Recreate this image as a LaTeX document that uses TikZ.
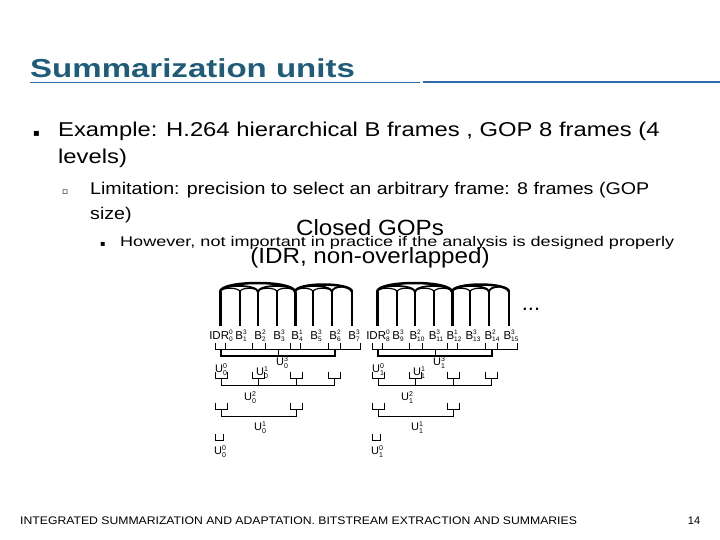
\documentclass[tikz,border=0pt]{standalone}
\usepackage{fontspec}
\setmainfont{Liberation Sans}
\newfontfamily\djvfont{DejaVu Sans}
\newcommand{\fr}[3]{#1\rlap{\raisebox{4.5pt}{\fontsize{6.5}{7}\selectfont #2}}\raisebox{-2.5pt}{\fontsize{6.5}{7}\selectfont #3}}
\newcommand{\hsc}[2]{\scalebox{#1}[1]{#2}}
\begin{document}
\begin{tikzpicture}[x=1pt,y=-1pt,
  ttl/.style={anchor=base west,font=\fontsize{26}{28}\selectfont\bfseries,text=titleblue,inner sep=0},
  lvl1/.style={anchor=base west,font=\fontsize{20}{22}\selectfont,inner sep=0},
  lvl2/.style={anchor=base west,font=\fontsize{17}{19}\selectfont,inner sep=0},
  lvl3/.style={anchor=base west,font=\fontsize{14}{16}\selectfont,inner sep=0},
  big/.style={anchor=base,font=\fontsize{22}{24}\selectfont,inner sep=0},
  frm/.style={anchor=base,font=\fontsize{11.5}{12}\selectfont,inner sep=0},
  ulab/.style={anchor=base,font=\fontsize{11}{11}\selectfont,inner sep=0},
  brk/.style={line width=1pt}]
\definecolor{titleblue}{HTML}{1F5C7A}
\definecolor{rule}{HTML}{2E6AA6}
\fill[white] (0,0) rectangle (720,540);
\useasboundingbox (0,0) rectangle (720,540);
\node[ttl] (title) at (30,78) {\hsc{1.27}{Summarization units}};
\draw[rule,line width=0.8pt] (30,82) -- (420,82);
\draw[rule,line width=2pt] (423,82) -- (720,82);
\node[lvl1] (b1) at (33,137) {\fontsize{10}{10}\selectfont\djvfont ▪};
\node[lvl1] (t1) at (58,137) {\hsc{1.19}{Example: H.264 hierarchical B frames , GOP 8 frames (4}};
\node[lvl1] (t1b) at (58,164) {\hsc{1.19}{levels)}};
\node[lvl2] (b2) at (62,195) {\fontsize{9}{9}\selectfont\djvfont ▫};
\node[lvl2] (t2) at (90,195) {\hsc{1.155}{Limitation: precision to select an arbitrary frame: 8 frames (GOP}};
\node[lvl2] (t2b) at (90,219) {\hsc{1.155}{size)}};
\node[lvl3] (b3) at (100,246) {\fontsize{8}{8}\selectfont\djvfont ▪};
\node[lvl3] (t3) at (120,246) {\hsc{1.29}{However, not important in practice if the analysis is designed properly}};
\node[big] (cg) at (370,236) {\hsc{1.1}{Closed GOPs}};
\node[big] (cg2) at (370,263) {\hsc{1.1}{(IDR, non-overlapped)}};
\node[anchor=base,font=\fontsize{22}{22}\selectfont] (dots) at (531,310) {...};
\foreach \o/\g/\z/\a/\b/\c/\d/\e/\f/\h in {0/0/0/1/2/3/4/5/6/7, 157/1/8/9/10/11/12/13/14/15}{
  \begin{scope}[xshift=\o]
  \foreach \x/\w in {220/3,240/1.5,258/2.2,277/1.5,295/3,313/1.5,332/2.2,352/1.5}
    \draw[line width=\w pt] (\x,326) -- (\x,292);
  \draw[line width=2.5pt] (220,292) .. controls (220,280) and (295,280) .. (295,292);
  \draw[line width=2.5pt] (295,292) .. controls (295,282) and (352,282) .. (352,292);
  \draw[line width=1.8pt] (220,292) .. controls (220,284) and (258,284) .. (258,292);
  \draw[line width=1.8pt] (258,292) .. controls (258,284) and (295,284) .. (295,292);
  \draw[line width=1.8pt] (295,292) .. controls (295,284) and (332,284) .. (332,292);
  \draw[line width=1.8pt] (332,292) .. controls (332,285) and (352,285) .. (352,292);
  \draw[line width=1.2pt] (220,292) .. controls (220,287) and (240,287) .. (240,292);
  \draw[line width=1.2pt] (240,292) .. controls (240,287) and (258,287) .. (258,292);
  \draw[line width=1.2pt] (258,292) .. controls (258,287) and (277,287) .. (277,292);
  \draw[line width=1.2pt] (277,292) .. controls (277,287) and (295,287) .. (295,292);
  \draw[line width=1.2pt] (295,292) .. controls (295,287) and (313,287) .. (313,292);
  \draw[line width=1.2pt] (313,292) .. controls (313,287) and (332,287) .. (332,292);
  \node[frm] at (221,339) {\fr{IDR}{0}{\z}};
  \node[frm] at (241,339) {\fr{B}{3}{\a}};
  \node[frm] at (260,339) {\fr{B}{2}{\b}};
  \node[frm] at (279,339) {\fr{B}{3}{\c}};
  \node[frm] at (297,339) {\fr{B}{1}{\d}};
  \node[frm] at (316,339) {\fr{B}{3}{\e}};
  \node[frm] at (335,339) {\fr{B}{2}{\f}};
  \node[frm] at (354,339) {\fr{B}{3}{\h}};
  \draw[brk] (215,343) -- (215,349) -- (360,349) -- (360,343);
  \foreach \x in {225,252,265,290,300,328,340} \draw (\x,343) -- (\x,349);
  \draw[line width=1.4pt] (221,349) -- (221,356) -- (335,356) -- (335,349);
  \draw (278,349) -- (278,356);
  \node[ulab] at (221,372) {U\rlap{\raisebox{4pt}{\scriptsize 0}}\raisebox{-3pt}{\scriptsize \g}};
  \node[ulab] at (262,375) {U\rlap{\raisebox{4pt}{\scriptsize 1}}\raisebox{-3pt}{\scriptsize \g}};
  \node[ulab] at (282,365) {U\rlap{\raisebox{4pt}{\scriptsize 3}}\raisebox{-3pt}{\scriptsize \g}};
  \foreach \x in {215,252,290,328}
    \draw (\x,372) -- (\x,378) -- (\x+12,378) -- (\x+12,372);
  \draw (221,378) -- (221,385) -- (334,385) -- (334,378);
  \draw (258,378) -- (258,385); \draw (296,378) -- (296,385);
  \node[ulab] at (250,400) {U\rlap{\raisebox{4pt}{\scriptsize 2}}\raisebox{-3pt}{\scriptsize \g}};
  \foreach \x in {215,290}
    \draw (\x,403) -- (\x,409) -- (\x+12,409) -- (\x+12,403);
  \draw (221,409) -- (221,416) -- (296,416) -- (296,409);
  \node[ulab] at (260,430) {U\rlap{\raisebox{4pt}{\scriptsize 1}}\raisebox{-3pt}{\scriptsize \g}};
  \draw (215,434) -- (215,440) -- (223,440) -- (223,434);
  \node[ulab] at (220,454) {U\rlap{\raisebox{4pt}{\scriptsize 0}}\raisebox{-3pt}{\scriptsize \g}};
  \end{scope}
}
\node[anchor=base west,font=\fontsize{11}{11}\selectfont,inner sep=0] (foot) at (20,524) {\hsc{1.11}{INTEGRATED SUMMARIZATION AND ADAPTATION. BITSTREAM EXTRACTION AND SUMMARIES}};
\node[anchor=base,font=\fontsize{11}{11}\selectfont,inner sep=0] (pg) at (694,524) {14};
\end{tikzpicture}
\end{document}
